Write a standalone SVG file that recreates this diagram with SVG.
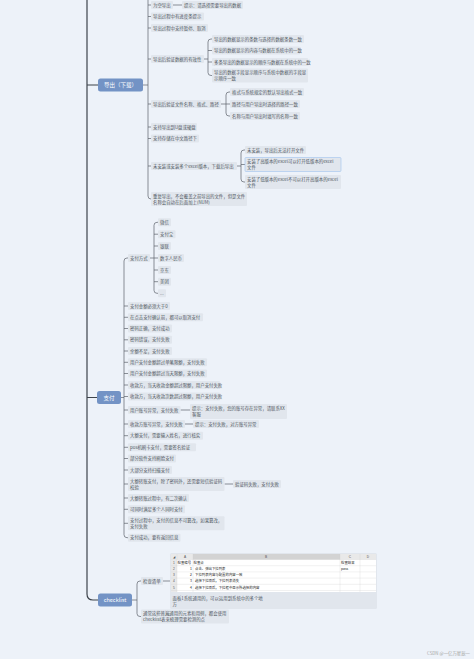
<svg xmlns="http://www.w3.org/2000/svg" width="474" height="659" viewBox="0 0 474 659">
<style>
.bg{fill:#edf2f9}
.b{fill:#e1e6ed}
.t{font-family:"Noto Sans CJK SC","Noto Sans",sans-serif;font-size:4.4px;fill:#4f5761}
.m{fill:#7393c5}
.mt{font-family:"Noto Sans CJK SC","Noto Sans",sans-serif;font-size:5.5px;fill:#ffffff;text-anchor:middle}
.sp{fill:none;stroke:#3d434b;stroke-width:1.2}
.l{fill:none;stroke:#5d636b;stroke-width:0.7}
.tb{font-family:"Noto Sans CJK SC","Noto Sans",sans-serif;font-size:3.4px;fill:#222}
.th{font-family:"Liberation Sans",sans-serif;font-size:3.2px;fill:#555;text-anchor:middle}
.g{stroke:#cfcfcf;stroke-width:0.3;fill:none}
</style>
<rect class="bg" x="0" y="0" width="474" height="659"/>
<g id="connectors">
<path class="sp" d="M87,0 V594 Q87,600 93,600 H98 M87,85 H98 M87,397.5 H97"/>
<path class="l" d="M143,85 H148 M148,0 V196 Q148,199 151,199 M148,5 H151 M148,16.5 H151 M148,28 H151 M148,59 H151 M148,104 H151 M148,127 H151 M148,138.5 H151 M148,166 H151"/>
<path class="l" d="M173,5 H182"/>
<path class="l" d="M204,59 H208 M212,39 H211 Q208,39 208,42 V72.5 Q208,75.5 211,75.5 H212 M208,50.5 H212 M208,62 H212"/>
<path class="l" d="M221,104 H226 M230,92 H229 Q226,92 226,95 V113 Q226,116 229,116 H230 M226,104 H230"/>
<path class="l" d="M237,166 H241 M245,150 H244 Q241,150 241,153 V179 Q241,182 244,182 H245 M241,164.5 H245"/>
<path class="l" d="M121,397.5 H124 M128,258 H127 Q124,258 124,261 V534.7 Q124,537.7 127,537.7 H128 M124,306 H128 M124,317.3 H128 M124,328.5 H128 M124,339.8 H128 M124,351 H128 M124,362.3 H128 M124,373.5 H128 M124,385 H128 M124,396.5 H128 M124,410 H128 M124,424 H128 M124,435.7 H128 M124,447.3 H128 M124,458.5 H128 M124,470 H128 M124,484 H128 M124,498 H128 M124,509.3 H128 M124,523.3 H128"/>
<path class="l" d="M150,258 H154 M158,222.3 H157 Q154,222.3 154,225.3 V290.3 Q154,293.3 157,293.3 H158 M154,234.2 H158 M154,246 H158 M154,258 H158 M154,270 H158 M154,281.7 H158"/>
<path class="l" d="M180.5,410 H190 M185,424 H193 M224.5,484 H233"/>
<path class="l" d="M132,600 H137 M141,581 H140 Q137,581 137,584 V613.5 Q137,616.5 140,616.5 H141 M163,581 H170"/>
</g>

<g id="node-export"><rect class="m" x="98" y="78.5" width="45" height="13" rx="2.5"/><text class="mt" x="120.5" y="87.2">导出（下载）</text></g>
<g id="e1"><rect class="b" x="151" y="1" width="22" height="8" rx="1"/><text class="t" x="153" y="6.5">为空导出</text></g>
<g id="e1a"><rect class="b" x="182" y="1" width="61" height="8" rx="1"/><text class="t" x="184" y="6.5">提示：请选择需要导出的数据</text></g>
<g id="e2"><rect class="b" x="151" y="12.5" width="53" height="8" rx="1"/><text class="t" x="153" y="18">导出过程中有进度条提示</text></g>
<g id="e3"><rect class="b" x="151" y="24" width="57" height="8" rx="1"/><text class="t" x="153" y="29.5">导出过程中支持暂停、取消</text></g>
<g id="e4"><rect class="b" x="151" y="55" width="53" height="8" rx="1"/><text class="t" x="153" y="60.5">导出后验证数据的有效性</text></g>
<g id="e4a"><rect class="b" x="212" y="35" width="92" height="8" rx="1"/><text class="t" x="214" y="40.5">导出的数据显示的条数与选择的数据条数一致</text></g>
<g id="e4b"><rect class="b" x="212" y="46.5" width="88" height="8" rx="1"/><text class="t" x="214" y="52">导出的数据显示的内容与数据在系统中的一致</text></g>
<g id="e4c"><rect class="b" x="212" y="58" width="96" height="8" rx="1"/><text class="t" x="214" y="63.5">多条导出的数据显示的顺序与数据在系统中的一致</text></g>
<g id="e4d"><rect class="b" x="212" y="68.5" width="96" height="14" rx="1"/><text class="t" x="214" y="74"><tspan x="214">导出的数据字段显示顺序与系统中数据的字段显</tspan><tspan x="214" dy="6">示顺序一致</tspan></text></g>
<g id="e5"><rect class="b" x="151" y="100" width="70" height="8" rx="1"/><text class="t" x="153" y="105.5">导出后验证文件名称、格式、路径</text></g>
<g id="e5a"><rect class="b" x="230" y="88" width="74" height="8" rx="1"/><text class="t" x="232" y="93.5">格式与系统规定的默认导出格式一致</text></g>
<g id="e5b"><rect class="b" x="230" y="100" width="70" height="8" rx="1"/><text class="t" x="232" y="105.5">路径与用户导出时选择的路径一致</text></g>
<g id="e5c"><rect class="b" x="230" y="112" width="70" height="8" rx="1"/><text class="t" x="232" y="117.5">名称与用户导出时填写的名称一致</text></g>
<g id="e6"><rect class="b" x="151" y="123" width="46" height="8" rx="1"/><text class="t" x="153" y="128.5">支持导出到U盘或硬盘</text></g>
<g id="e7"><rect class="b" x="151" y="134.5" width="48" height="8" rx="1"/><text class="t" x="153" y="140">支持存储在中文路径下</text></g>
<g id="e8"><rect class="b" x="151" y="162" width="86" height="8" rx="1"/><text class="t" x="153" y="167.5">未安装或安装多个excel版本，下载后导出</text></g>
<g id="e8a"><rect class="b" x="245" y="146" width="61" height="8" rx="1"/><text class="t" x="247" y="151.5">未安装，导出后无法打开文件</text></g>
<g id="e8b"><rect class="b" x="245" y="157.5" width="96" height="14" rx="1" stroke="#9fc3ee" stroke-width="0.6"/><text class="t" x="247" y="163"><tspan x="247">安装了高版本的excel可以打开低版本的excel</tspan><tspan x="247" dy="6">文件</tspan></text></g>
<g id="e8c"><rect class="b" x="245" y="175" width="96" height="14" rx="1"/><text class="t" x="247" y="180.5"><tspan x="247">安装了低版本的excel不可以打开高版本的excel</tspan><tspan x="247" dy="6">文件</tspan></text></g>
<g id="e9"><rect class="b" x="151" y="192" width="96" height="14" rx="1"/><text class="t" x="153" y="197.5"><tspan x="153">重复导出，不会覆盖之前导出的文件，但是文件</tspan><tspan x="153" dy="6">名称会自动在后面加上(NUM)</tspan></text></g>

<g id="node-pay"><rect class="m" x="97" y="391" width="24" height="13" rx="2.5"/><text class="mt" x="109" y="399.7">支付</text></g>
<g id="p1"><rect class="b" x="128" y="254" width="22" height="8" rx="1"/><text class="t" x="130" y="259.5">支付方式</text></g>
<g id="p1a"><rect class="b" x="158" y="218.3" width="13" height="8" rx="1"/><text class="t" x="160" y="223.8">微信</text></g>
<g id="p1b"><rect class="b" x="158" y="230.2" width="17.5" height="8" rx="1"/><text class="t" x="160" y="235.7">支付宝</text></g>
<g id="p1c"><rect class="b" x="158" y="242" width="13" height="8" rx="1"/><text class="t" x="160" y="247.5">银联</text></g>
<g id="p1d"><rect class="b" x="158" y="254" width="26" height="8" rx="1"/><text class="t" x="160" y="259.5">数字人民币</text></g>
<g id="p1e"><rect class="b" x="158" y="266" width="13" height="8" rx="1"/><text class="t" x="160" y="271.5">京东</text></g>
<g id="p1f"><rect class="b" x="158" y="277.7" width="13" height="8" rx="1"/><text class="t" x="160" y="283.2">美团</text></g>
<g id="p1g"><rect class="b" x="158" y="289.3" width="8" height="8" rx="1"/><text class="t" x="160" y="294.8">...</text></g>
<g id="p2"><rect class="b" x="128" y="302" width="42" height="8" rx="1"/><text class="t" x="130" y="307.5">支付金额必须大于0</text></g>
<g id="p3"><rect class="b" x="128" y="313.3" width="75" height="8" rx="1"/><text class="t" x="130" y="318.8">在点击支付确认前，都可以取消支付</text></g>
<g id="p4"><rect class="b" x="128" y="324.5" width="44" height="8" rx="1"/><text class="t" x="130" y="330">密码正确，支付成功</text></g>
<g id="p5"><rect class="b" x="128" y="335.8" width="44" height="8" rx="1"/><text class="t" x="130" y="341.3">密码错误，支付失败</text></g>
<g id="p6"><rect class="b" x="128" y="347" width="44" height="8" rx="1"/><text class="t" x="130" y="352.5">余额不足，支付失败</text></g>
<g id="p7"><rect class="b" x="128" y="358.3" width="79" height="8" rx="1"/><text class="t" x="130" y="363.8">用户支付金额超过单笔限额，支付失败</text></g>
<g id="p8"><rect class="b" x="128" y="369.5" width="79" height="8" rx="1"/><text class="t" x="130" y="375">用户支付金额超过当天限额，支付失败</text></g>
<g id="p9"><rect class="b" x="128" y="381" width="92" height="8" rx="1"/><text class="t" x="130" y="386.5">收款方，当天收款金额超过限额，用户支付失败</text></g>
<g id="p10"><rect class="b" x="128" y="392.5" width="92" height="8" rx="1"/><text class="t" x="130" y="398">收款方，当天收款次数超过限额，用户支付失败</text></g>
<g id="p11"><rect class="b" x="128" y="406" width="52.5" height="8" rx="1"/><text class="t" x="130" y="411.5">用户账号异常，支付失败</text></g>
<g id="p11a"><rect class="b" x="190" y="404" width="97" height="15" rx="1"/><text class="t" x="192" y="409.5"><tspan x="192">提示：支付失败，您的账号存在异常，请联系XX</tspan><tspan x="192" dy="6">客服</tspan></text></g>
<g id="p12"><rect class="b" x="128" y="420" width="57" height="8" rx="1"/><text class="t" x="130" y="425.5">收款方账号异常，支付失败</text></g>
<g id="p12a"><rect class="b" x="193" y="420" width="66" height="8" rx="1"/><text class="t" x="195" y="425.5">提示：支付失败，对方账号异常</text></g>
<g id="p13"><rect class="b" x="128" y="431.7" width="75" height="8" rx="1"/><text class="t" x="130" y="437.2">大额支付，需要输入姓名，进行核实</text></g>
<g id="p14"><rect class="b" x="128" y="443.3" width="68" height="8" rx="1"/><text class="t" x="130" y="448.8">pos机刷卡支付，需要签名验证</text></g>
<g id="p15"><rect class="b" x="128" y="454.5" width="48" height="8" rx="1"/><text class="t" x="130" y="460">部分软件支持刷脸支付</text></g>
<g id="p16"><rect class="b" x="128" y="466" width="44" height="8" rx="1"/><text class="t" x="130" y="471.5">大部分支持扫描支付</text></g>
<g id="p17"><rect class="b" x="128" y="477" width="96.5" height="14" rx="1"/><text class="t" x="130" y="482.5"><tspan x="130">大额转账支付，除了密码外，还需要短信验证码</tspan><tspan x="130" dy="6">校验</tspan></text></g>
<g id="p17a"><rect class="b" x="233" y="480" width="48" height="8" rx="1"/><text class="t" x="235" y="485.5">验证码失败，支付失败</text></g>
<g id="p18"><rect class="b" x="128" y="494" width="61" height="8" rx="1"/><text class="t" x="130" y="499.5">大额转账过程中，有二次确认</text></g>
<g id="p19"><rect class="b" x="128" y="505.3" width="57" height="8" rx="1"/><text class="t" x="130" y="510.8">可同时满足多个人同时支付</text></g>
<g id="p20"><rect class="b" x="128" y="516.3" width="96.5" height="14" rx="1"/><text class="t" x="130" y="521.8"><tspan x="130">支付过程中，支付的信息不可篡改，如果篡改，</tspan><tspan x="130" dy="6">支付失败</tspan></text></g>
<g id="p21"><rect class="b" x="128" y="533.7" width="52.5" height="8" rx="1"/><text class="t" x="130" y="539.2">支付成功，要有返回信息</text></g>

<g id="node-checklist"><rect class="m" x="98" y="593.5" width="34" height="13" rx="2.5"/><text class="mt" x="115" y="602">checklist</text></g>
<g id="c1"><rect class="b" x="141" y="577" width="22" height="8" rx="1"/><text class="t" x="143" y="582.5">检查清单</text></g>
<g id="c1a">
<rect class="b" x="170" y="553" width="207" height="56" rx="1.5"/>
<rect x="171" y="554" width="205" height="38" fill="#ffffff"/>
<rect x="171" y="554" width="205" height="5.5" fill="#e9e9e9"/>
<rect x="193" y="554" width="147" height="5.5" fill="#d3d3d3"/>
<rect x="171" y="559.5" width="6" height="32.5" fill="#e9e9e9"/>
<path class="g" d="M171,559.5 H376 M171,565.7 H376 M171,571.9 H376 M171,578.1 H376 M171,584.3 H376 M171,590.5 H376 M177,554 V592 M193,554 V592 M340,554 V592 M360,554 V592"/>
<text class="th" x="174" y="558.3">◢</text>
<text class="th" x="185" y="558.3">A</text>
<text class="th" x="266" y="558.3">B</text>
<text class="th" x="350" y="558.3">C</text>
<text class="th" x="368" y="558.3">D</text>
<text class="th" x="174" y="563.8">1</text>
<text class="th" x="174" y="570">2</text>
<text class="th" x="174" y="576.2">3</text>
<text class="th" x="174" y="582.4">4</text>
<text class="th" x="174" y="588.6">5</text>
<text class="tb" x="177.5" y="563.8">检查编号</text>
<text class="tb" x="193.5" y="563.8">检查点</text>
<text class="tb" x="341" y="563.8">检查结果</text>
<text class="tb" x="192" y="570" text-anchor="end">1</text>
<text class="tb" x="195" y="570">点击、弹出下拉列表</text>
<text class="tb" x="341" y="570">pass</text>
<text class="tb" x="192" y="576.2" text-anchor="end">2</text>
<text class="tb" x="195" y="576.2">下拉列表内容与配置的内容一致</text>
<text class="tb" x="192" y="582.4" text-anchor="end">3</text>
<text class="tb" x="195" y="582.4">选择下拉项后，下拉列表消失</text>
<text class="tb" x="192" y="588.6" text-anchor="end">4</text>
<text class="tb" x="195" y="588.6">选择下拉项后，下拉框中显示所选择的内容</text>
<text class="t" x="172.5" y="599.5"><tspan x="172.5">面板1系统通用的，可以运用到系统中的多个地</tspan><tspan x="172.5" dy="6">方</tspan></text>
</g>
<g id="c2"><rect class="b" x="141" y="609.5" width="88" height="14" rx="1"/><text class="t" x="143" y="615"><tspan x="143">通常这些普遍通用的元素和用例，都会使用</tspan><tspan x="143" dy="6">checklist表来梳理需要检测的点</tspan></text></g>
<g id="footer"><text class="t" x="470" y="655" text-anchor="end" style="fill:#a3a3a3">CSDN @一亿万星辰一</text></g>
</svg>
